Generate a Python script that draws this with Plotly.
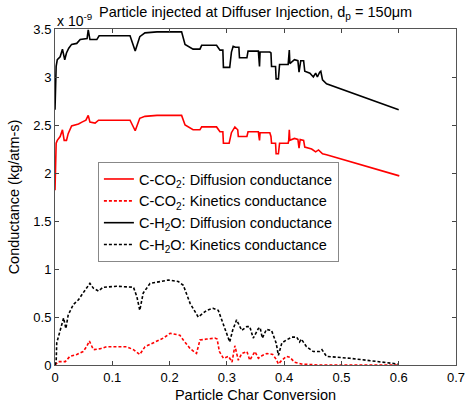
import plotly.graph_objects as go

# values in units of 1e-9 kg/atm-s
h2o_diff_x = [0, 0.0005, 0.002, 0.004, 0.009, 0.013, 0.017, 0.020, 0.024, 0.029,
              0.038, 0.044, 0.052, 0.056, 0.058, 0.061, 0.064, 0.073, 0.077, 0.131,
              0.140, 0.148, 0.157, 0.178, 0.221, 0.227, 0.241, 0.253, 0.256, 0.282,
              0.288, 0.293, 0.294, 0.305, 0.308, 0.311, 0.315, 0.321, 0.322, 0.335,
              0.337, 0.355, 0.357, 0.358, 0.375, 0.377, 0.378, 0.385, 0.386, 0.390,
              0.392, 0.407, 0.409, 0.410, 0.418, 0.424, 0.426, 0.429, 0.434, 0.436,
              0.445, 0.451, 0.455, 0.458, 0.462, 0.464, 0.467, 0.474, 0.600]
h2o_diff_y = [2.66, 2.95, 3.11, 3.18, 3.21, 3.29, 3.18, 3.25, 3.30, 3.34,
              3.35, 3.39, 3.40, 3.40, 3.49, 3.39, 3.39, 3.39, 3.43, 3.43,
              3.27, 3.42, 3.46, 3.47, 3.47, 3.34, 3.29, 3.29, 3.33, 3.33,
              3.28, 3.28, 3.10, 3.10, 3.26, 3.32, 3.31, 3.31, 3.20, 3.20,
              3.27, 3.27, 3.11, 3.26, 3.26, 3.25, 3.11, 3.11, 2.98, 2.98,
              3.13, 3.13, 3.28, 3.14, 3.18, 3.17, 3.05, 3.17, 3.17, 3.06,
              3.04, 3.00, 3.04, 3.00, 3.05, 3.06, 2.97, 2.93, 2.66]

co2_diff_x = [0, 0.0005, 0.002, 0.004, 0.009, 0.013, 0.016, 0.020, 0.023, 0.029,
              0.041, 0.047, 0.054, 0.058, 0.061, 0.070, 0.076, 0.131, 0.140, 0.148,
              0.157, 0.178, 0.221, 0.227, 0.241, 0.253, 0.256, 0.282, 0.288, 0.293,
              0.294, 0.304, 0.308, 0.314, 0.319, 0.320, 0.335, 0.337, 0.355, 0.356,
              0.357, 0.358, 0.375, 0.377, 0.378, 0.385, 0.386, 0.390, 0.392, 0.407,
              0.408, 0.409, 0.410, 0.418, 0.424, 0.426, 0.428, 0.434, 0.436, 0.448,
              0.455, 0.460, 0.467, 0.474, 0.601]
co2_diff_y = [1.82, 2.10, 2.31, 2.34, 2.38, 2.45, 2.34, 2.34, 2.41, 2.49,
              2.51, 2.53, 2.55, 2.60, 2.53, 2.52, 2.55, 2.55, 2.44, 2.57,
              2.59, 2.60, 2.60, 2.50, 2.45, 2.45, 2.48, 2.48, 2.43, 2.43,
              2.31, 2.31, 2.42, 2.48, 2.45, 2.38, 2.38, 2.43, 2.43, 2.38,
              2.34, 2.42, 2.42, 2.38, 2.31, 2.31, 2.20, 2.20, 2.31, 2.31,
              2.34, 2.45, 2.34, 2.36, 2.35, 2.26, 2.35, 2.34, 2.27, 2.25,
              2.22, 2.24, 2.20, 2.19, 1.97]

h2o_kin_x = [0, 0.002, 0.003, 0.009, 0.015, 0.019, 0.023, 0.032, 0.041, 0.049,
             0.061, 0.067, 0.076, 0.084, 0.108, 0.137, 0.143, 0.148, 0.154, 0.166,
             0.183, 0.198, 0.215, 0.224, 0.236, 0.250, 0.265, 0.276, 0.285, 0.294,
             0.305, 0.310, 0.317, 0.326, 0.335, 0.340, 0.346, 0.355, 0.358, 0.362,
             0.369, 0.378, 0.386, 0.390, 0.396, 0.404, 0.413, 0.422, 0.427, 0.430,
             0.439, 0.451, 0.462, 0.466, 0.474, 0.515, 0.550, 0.599]
h2o_kin_y = [0.0, 0.03, 0.23, 0.36, 0.49, 0.38, 0.52, 0.63, 0.68, 0.75,
             0.85, 0.80, 0.77, 0.81, 0.82, 0.81, 0.71, 0.57, 0.75, 0.85,
             0.87, 0.885, 0.87, 0.83, 0.64, 0.50, 0.57, 0.59, 0.57, 0.43,
             0.24, 0.36, 0.47, 0.36, 0.40, 0.40, 0.28, 0.38, 0.39, 0.28,
             0.37, 0.36, 0.23, 0.10, 0.23, 0.26, 0.29, 0.29, 0.24, 0.27,
             0.19, 0.14, 0.14, 0.16, 0.09, 0.07, 0.045, 0.01]

co2_kin_x = [0, 0.006, 0.018, 0.026, 0.038, 0.049, 0.055, 0.060, 0.067, 0.079,
             0.090, 0.125, 0.137, 0.148, 0.157, 0.172, 0.189, 0.201, 0.218, 0.224,
             0.236, 0.247, 0.253, 0.265, 0.279, 0.283, 0.287, 0.294, 0.303, 0.309,
             0.314, 0.320, 0.326, 0.335, 0.340, 0.349, 0.355, 0.362, 0.370, 0.380,
             0.386, 0.390, 0.396, 0.404, 0.410, 0.418, 0.430, 0.460, 0.600]
co2_kin_y = [0.0, 0.035, 0.035, 0.09, 0.11, 0.14, 0.19, 0.25, 0.16, 0.17,
             0.19, 0.19, 0.16, 0.11, 0.19, 0.23, 0.28, 0.33, 0.31, 0.26,
             0.17, 0.12, 0.26, 0.27, 0.28, 0.27, 0.14, 0.07, 0.09, 0.03,
             0.20, 0.05, 0.12, 0.14, 0.05, 0.14, 0.07, 0.10, 0.12, 0.11,
             0.06, 0.01, 0.05, 0.09, 0.08, 0.03, 0.01, 0.0, 0.0]

series = [
    ("C-CO<sub>2</sub>: Diffusion conductance", co2_diff_x, co2_diff_y, "#ff0000", "solid"),
    ("C-CO<sub>2</sub>: Kinetics conductance", co2_kin_x, co2_kin_y, "#ff0000", "3px,2px"),
    ("C-H<sub>2</sub>O: Diffusion conductance", h2o_diff_x, h2o_diff_y, "#000000", "solid"),
    ("C-H<sub>2</sub>O: Kinetics conductance", h2o_kin_x, h2o_kin_y, "#000000", "3px,2px"),
]

font = "Liberation Sans, Arial, sans-serif"

fig = go.Figure()
for name, xs, ys, col, dash in series:
    fig.add_trace(go.Scatter(x=xs, y=ys, mode="lines", name=name,
                             line=dict(color=col, width=1.6, dash=dash)))

fig.update_layout(
    width=474, height=409,
    margin=dict(l=55, r=18, t=29, b=44),
    paper_bgcolor="white", plot_bgcolor="white",
    font=dict(family=font, size=13, color="black"),
    showlegend=True,
    legend=dict(x=0.107, y=0.604, xanchor="left", yanchor="top",
                bgcolor="white", bordercolor="#888888", borderwidth=1,
                font=dict(size=14.5), itemwidth=30, tracegroupgap=0),
)
fig.update_xaxes(range=[0, 0.7], dtick=0.1, ticks="inside", ticklen=4,
                 showline=True, linecolor="#555555", mirror="ticks",
                 showgrid=False, zeroline=False, automargin=False,
                 title=dict(text="Particle Char Conversion", standoff=6,
                            font=dict(size=14.5)))
fig.update_yaxes(range=[0, 3.5], dtick=0.5, ticks="inside", ticklen=4,
                 showline=True, linecolor="#555555", mirror="ticks",
                 showgrid=False, zeroline=False, automargin=False,
                 title=dict(text="Conductance (kg/atm-s)", standoff=10,
                            font=dict(size=14.5)))

fig.add_annotation(text="Particle injected at Diffuser Injection, d<sub>p</sub> = 150μm",
                   x=0.5, y=1, xref="paper", yref="paper", xanchor="center",
                   yanchor="bottom", yshift=5, showarrow=False,
                   font=dict(size=14.5))
fig.add_annotation(text="x 10<sup>-9</sup>", x=0, y=1, xref="paper", yref="paper",
                   xanchor="left", yanchor="bottom", yshift=-2, showarrow=False,
                   font=dict(size=14))

# drop the default 8px body margin so the figure fills the window
fig.write_html("out.html", config={"displayModeBar": False},
               post_script="document.body.style.margin='0';")
